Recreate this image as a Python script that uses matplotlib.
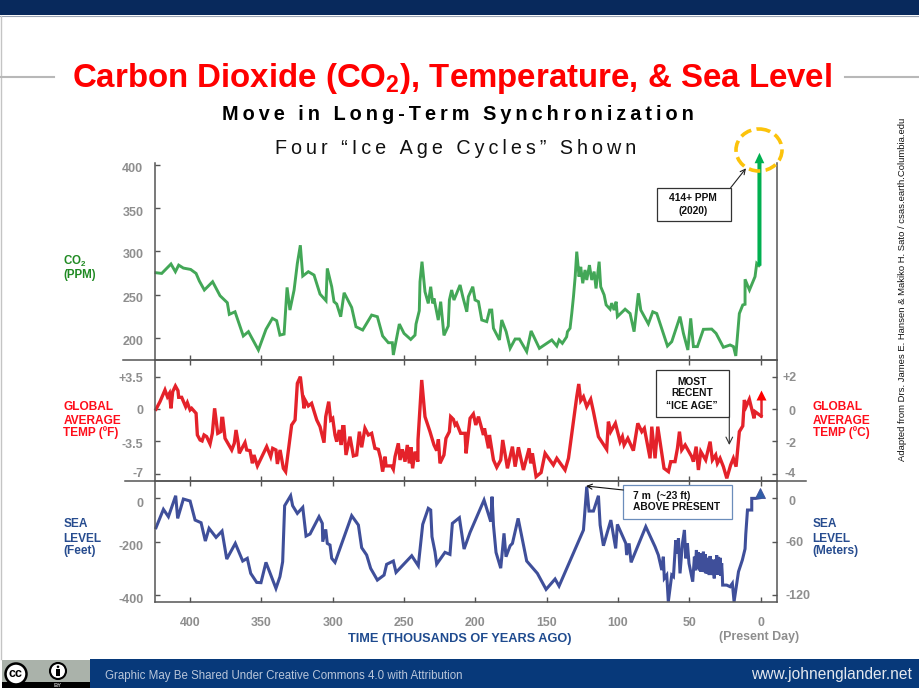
import numpy as np
import matplotlib
matplotlib.use("Agg")
import matplotlib.pyplot as plt
from matplotlib.patches import Rectangle, Ellipse, Circle
from matplotlib.transforms import Affine2D

plt.rcParams["font.family"] = ["Liberation Sans", "DejaVu Sans"]
plt.rcParams["mathtext.fontset"] = "custom"
plt.rcParams["mathtext.rm"] = "Liberation Sans"
plt.rcParams["mathtext.bf"] = "Liberation Sans:bold"
plt.rcParams["axes.unicode_minus"] = False

# CO2 record: thousands of years ago, parts per million
co2_age = [423.9,419.9,413.4,410.3,408,404.7,399.6,395.8,393.5,390,384.2,379,373.9,372.5,368.5,362.7,359.1,352.1,346.8,342.3,339.3,337,334.1,332,330,327.1,324.8,322.7,321,317.1,313.1,308.9,304.7,303.8,300.7,299.1,297.2,294.4,292,286.7,283.7,279,272.7,268.7,265,261,258.2,257.5,253.3,250,245.3,242.3,241.6,239.3,238.8,237.4,235.3,233,231.3,229.9,229,226,224.3,222,219,218.2,216.6,215,210.7,208.8,206,204.9,201.8,200.2,197.8,195.5,192,190,188.5,187.3,183.1,181.5,178.4,175.6,172.1,169.1,164,160.9,155.1,146.4,142.9,141.3,139,136,135.4,133.6,132.4,131.2,130,128.9,127.3,126.1,124.7,123.1,121.9,120,118.4,116.7,115.4,113.2,112.1,109.7,108.3,105.5,104.4,102.7,101.3,100.4,95,91.5,88.7,85.7,84,78.7,75.6,72.8,65.3,62.3,56.5,54.1,51,49,47.1,44.3,40.1,34.3,31.2,26.1,21.4,19,17.4,14.9,12.5,10.9,10.9,7.8,3.9,2.7,1.1]
co2_ppm = [275.2,274.4,285.3,276.4,284,280.6,279,274.4,265.6,255.2,264.8,248.6,240.5,227,230,202,207,185.7,209.6,222.4,219.7,203,204.2,258.2,232,255,286,307,271.4,276.4,272.5,250.5,242.8,280.2,259,241.7,239,224.3,252,235,212.7,208.9,226.2,224.3,202,194.2,194.2,180,215.8,205,198,203,215.8,231.2,264.8,288,253.2,239.7,259,239.7,245.5,220.4,241.7,202.7,213.5,243.6,255.2,243.6,261,247.5,230,247.5,259,243.7,241.7,220.5,218.6,232,232,210.9,197.4,220.5,207,187.7,198.5,198.5,183.9,207.8,187.7,197.4,190.4,197.4,193.5,201,207,210.9,228,247.5,270.7,299.6,270.7,282,263,278.4,266.8,284,266.8,276.5,257,288,259,249.5,238,233,240,232,241.7,224.4,233,228,207,251.4,232,216,230,228,190.4,195.4,224.4,205,185.8,222.4,189.7,189.7,209.7,210,205,188.9,191.6,189.7,178.9,228,237.9,238.7,267.6,255.2,270.7,286,283.4]
co2_modern_ppm = 414

# Temperature record: thousands of years ago, degrees Fahrenheit from present
temp_age = [423.9,421.1,417.6,415.9,414.5,413.4,412.2,410.3,408.5,408,405.9,403.1,401.9,400,398.9,395.8,394.9,393,391.6,390.2,388.4,386,384.4,382.8,380.6,378.5,377.8,377.1,375.5,370.8,369,367.8,366.2,365.5,361.5,360.3,358,356.3,355.2,352.8,346.3,343.5,342.1,339.8,338.8,336.9,334.6,333,328.8,326.4,324.8,322.7,320.1,319.4,317.1,314.8,311.2,308.9,306.1,304.9,302.8,301.4,300,298.4,297.2,295.4,294,293,292.1,290.7,287.9,285.5,283.2,281.3,279.7,277.4,275,272.7,270.4,268,266.4,265,263.3,262.6,258.7,257.5,256.3,254,252.8,251.2,249.3,247.7,246.3,245.1,244,242.3,240.3,240.2,237.6,235.3,231.8,229,227.1,225.9,224.8,222,220.6,218.2,217.3,215.4,214.2,213.1,210.3,209.5,207.2,206.5,203.7,201.4,199.7,197.8,194.3,193.6,190.8,190.1,187.3,185,182.2,180.8,177.5,174,172.1,169.8,166.3,162.3,161.2,160,157.4,153.9,151.1,145.3,142.9,137.1,134.7,128.9,127.5,126.1,124.2,121.9,119.1,117.2,113.7,111.4,107.9,106.7,105.1,101.8,98.5,96.9,95.7,93.1,89.2,86.1,83.3,81.5,77.5,76.3,74,72.1,67.7,64.6,63,60,58.3,56.9,55.3,52.9,48.3,47.1,45.2,43.6,41.9,38.5,35.4,33.8,31.5,30.3,28.4,26.1,23.7,21,19.1,17.2,14.9,12.5,11.4,10.2,7.9,4.6,3.9,-0.3]
temp_f = [-0.03,0.79,2.05,1.33,1.69,0.07,1.87,2.48,1.98,1.26,1.26,0.25,0.68,-0.1,0.07,-0.47,-2.81,-3.35,-3.45,-2.81,-2.99,-3.78,-2.63,0.07,-2.63,-2.45,-1.01,-1.01,-3.17,-4.43,-3.71,-2.27,-3.71,-4.79,-3.63,-4.43,-4.5,-5.87,-4.97,-6.15,-4.07,-5.15,-4.25,-4.43,-5.94,-4.43,-6.41,-6.77,-1.73,-1.19,2.77,3.49,0.07,0.97,0.33,0.61,-1.19,-1.91,-3.64,-0.83,0.79,-1.19,-1.01,-2.81,-3.53,-2.27,-3.89,-1.91,-1.91,-4.97,-2.99,-5.07,-4.97,-2.45,-4.14,-2.09,-2.81,-2.63,-4.25,-4.36,-5.33,-6.77,-5.15,-6.15,-6.15,-6.51,-5.15,-3.71,-5.51,-4.36,-5.69,-3.89,-5.87,-4.14,-6.41,-4.61,-5.69,-3.35,3.13,-0.83,-2.45,-3.89,-4.5,-3.28,-5.87,-4.97,-3.17,-2.45,-0.83,-1.12,-1.73,-1.55,-2.63,-2.63,-2.63,-4.79,-1.01,-0.54,-1.73,-0.83,-2.81,-2.09,-4.25,-2.81,-5.51,-6.3,-5.51,-3.35,-6.41,-4.07,-6.23,-4.14,-6.59,-4.25,-5.87,-4.79,-7.31,-6.87,-4.79,-6.05,-5.33,-6.59,-5.33,1.33,2.7,0.9,1.33,0.25,1.05,-0.29,-2.99,-3.53,-4.36,-1.37,-2.45,-1.55,-3.53,-2.99,-3.89,-3.17,-4.5,-1.55,-2.45,-2.09,-5.33,-1.91,-5.33,-1.91,-6.41,-6.77,-5.69,-5.69,-4.25,-2.45,-4.43,-3.89,-5.15,-5.69,-4.07,-6.59,-4.61,-5.51,-3.53,-5.51,-4.97,-5.87,-5.33,-6.23,-7.49,-6.05,-5.33,-6.23,-2.45,-1.84,0.97,0.25,1.05,-1.01,-0.29,-0.76]
temp_arrow_f = 1.5

# Sea level record: thousands of years ago, metres from present
sea_age = [423.9,418.7,415.2,410.1,408.7,404.7,400,396.5,392.3,389.3,386.7,381.8,377.6,374.3,368.3,363.1,359.9,357.5,353.3,350.3,346.8,339.8,337,335.1,333.7,329.5,328.1,324.8,321,318.7,315.9,309.6,307.3,307,304.9,303.8,301.9,300.7,298.4,286.7,282,279.7,276.2,273.4,268.7,264,262.2,257.5,255.6,244.6,240,236.9,233,231.3,230.4,228.3,227.1,221.3,217.8,216.1,211.2,207.9,203.7,193.9,189.2,188.3,187.3,185.5,182.2,179.9,178.5,175.6,174,170,164,156.5,150.4,144.1,141.3,124.2,121.9,120.3,117.2,113.7,112.5,110.2,105,101.6,100.4,94.5,93.9,92.2,90.8,80.5,74,71.7,69.3,68.2,67.5,65.8,64.7,62.3,61.1,59.5,58.1,57.6,56.5,54.8,53.4,52.5,51.3,50.2,47.6,46.4,45.8,45,44.3,43.6,43,42.4,41.9,41.3,40.7,40.1,39.5,38.9,38.3,37.8,37.2,36.6,36,35.4,34.9,34.3,33.7,33.1,32.5,31.9,31.4,30.8,30.2,29.6,29,28.4,27.9,27.3,26.8,26.6,23.8,21.4,19.8,18.6,15.5,12.8,10.9,10.4,9.2,6.2,6.2,3.4,0.5]
sea_m = [-40.9,-15.9,-25.9,2.7,-28.2,-1.8,-4.5,-30.5,-34.1,-59.1,-41.8,-54.1,-45.5,-79.4,-61.9,-81.6,-78.6,-95.4,-105.5,-105.8,-83.1,-112.2,-99.1,-82.4,-10.9,2.7,-10.9,-21.4,-13.2,-52.3,-49.5,-25.9,-35,-60,-43.2,-61.9,-63.7,-78.6,-83.1,-24.5,-37.3,-66.7,-74.9,-89.8,-102.9,-97.3,-85.3,-81.6,-94.3,-75.7,-86.9,-36.4,-14.5,-16.8,-53.2,-71.2,-85.1,-71.9,-74.2,-35,-27.3,-68.2,-47.3,-3.2,-32.7,1.4,-37.3,-72,-89.6,-48.6,-76.8,-64.5,-61.9,-28.2,-81.6,-95.4,-113.3,-101.7,-109.6,-44.1,15,-18.2,-18.2,2.7,-37.3,-64.5,-30.5,-67.5,-36.4,-61.9,-74.9,-61.9,-83.1,-39.5,-65.6,-74.9,-91.7,-76.8,-101,-97.3,-127,-97.3,-99,-57.9,-73,-55.4,-95.4,-61.9,-44,-78.6,-61.9,-84.2,-104.7,-76.8,-92,-69.3,-90,-72,-92,-73,-93.5,-75,-90,-71.2,-94,-74,-95.4,-78,-96,-80,-97.3,-76,-96,-80,-97.3,-84,-101,-80,-96,-75,-97,-77,-96,-78,-98,-84,-99,-108.5,-108.5,-110.3,-106.6,-127,-93.5,-80.5,-68,-50,-16.8,-16.8,-0.9,-0.9,0]
sea_arrow_m = 6

age_ticks = [400, 350, 300, 250, 200, 150, 100, 50, 0]
age_labels = ["400", "350", "300", "250", "200", "150", "100", "50", "0"]
co2_ticks = [400, 350, 300, 250, 200]
temp_f_ticks = [3.5, 0, -3.5, -7]
temp_f_labels = ["+3.5", "0", "-3.5", "-7"]
temp_c_ticks = [2, 0, -2, -4]
temp_c_labels = ["+2", "0", "-2", "-4"]
sea_ft_ticks = [0, -200, -400]
sea_m_ticks = [0, -60, -120]

GREEN, RED, BLUE = "#43a757", "#e4222a", "#3f4f9a"
TICK_GREY, AXIS_GREY = "#8e8e8e", "#555555"
W, H = 920, 688

fig = plt.figure(figsize=(W / 100, H / 100), dpi=100, facecolor="white")


def panel(top, bottom):
    return fig.add_axes([155 / W, 1 - bottom / H, 622 / W, (bottom - top) / H])


ax_co2, ax_temp, ax_sea = panel(163, 360), panel(360, 481), panel(481, 602)
for ax in (ax_co2, ax_temp, ax_sea):
    ax.set_xlim(424.6, -11.5)
    ax.set_xticks(age_ticks)
    for spine in ax.spines.values():
        spine.set_color(AXIS_GREY)
        spine.set_linewidth(1.1)
    ax.tick_params(axis="both", direction="in", length=3.4, width=1.0, color=AXIS_GREY,
                   labelcolor=TICK_GREY, labelsize=9)
    ax.patch.set_alpha(0)
ax_co2.spines["top"].set_visible(False)
ax_co2.set_ylim(174.2, 402.2)
ax_temp.set_ylim(-7.78, 5.29)

# The printed sea level axis is not evenly spaced, so its scale follows the tick marks
sea_nodes_m = [60, 0, -60, -120, -180]
sea_nodes_px = [44, 0, -44, -97.7, -151.4]


def sea_forward(v):
    return np.interp(v, sea_nodes_m[::-1], sea_nodes_px[::-1])


def sea_inverse(v):
    return np.interp(v, sea_nodes_px[::-1], sea_nodes_m[::-1])


ax_sea.set_yscale("function", functions=(sea_forward, sea_inverse))
ax_sea.set_ylim(-127.4, 22.8)

for ax, x, y, color, lw in ((ax_co2, co2_age, co2_ppm, GREEN, 2.1),
                            (ax_temp, temp_age, temp_f, RED, 2.4),
                            (ax_sea, sea_age, sea_m, BLUE, 2.2)):
    ax.plot(x, y, color=color, lw=lw, solid_joinstyle="miter", clip_on=False)

# Rise since the last ice age, drawn as arrows above each record
ax_co2.annotate("", xy=(0.8, co2_modern_ppm), xytext=(0.8, co2_ppm[-1]), annotation_clip=False,
                arrowprops=dict(facecolor="#00b050", edgecolor="none", width=2.9, headwidth=7,
                                headlength=7.5, shrink=0))
ax_temp.plot([temp_age[-1]] * 2, [temp_f[-1], temp_arrow_f], color=RED, lw=1.8)
ax_temp.plot([temp_age[-1]], [temp_arrow_f], marker="^", ms=7.5, color="#ff0000", mec="none")
ax_sea.plot([sea_age[-1]], [sea_arrow_m], marker="^", ms=7.5, color="#2f5ea8", mec=BLUE, mew=0.6,
            clip_on=False)

ax_co2.set_yticks(co2_ticks)
ax_temp.set_yticks(temp_f_ticks, temp_f_labels)
ax_co2.tick_params(axis="x", labelbottom=False, top=False)
ax_temp.tick_params(axis="x", labelbottom=False, top=True)
ax_sea.tick_params(axis="x", top=True, pad=10.5, labelsize=8.9)
ax_sea.set_xticklabels(age_labels, fontweight="bold")

# Right-hand axes: Celsius for temperature; sea level in metres sits right, feet left
ax_c = ax_temp.twinx()
ax_c.set_ylim(-7.78 * 2 / 3.5, 5.29 * 2 / 3.5)
ax_c.set_yticks(temp_c_ticks, temp_c_labels)

ax_ft = ax_sea.twinx()
ax_ft.yaxis.tick_left()
ax_sea.yaxis.tick_right()
ax_sea.set_yticks(sea_m_ticks)


def feet_forward(v):
    return sea_forward(np.asarray(v) * 0.3)


def feet_inverse(v):
    return sea_inverse(v) / 0.3


ax_ft.set_yscale("function", functions=(feet_forward, feet_inverse))
ax_ft.set_ylim(-127.4 / 0.3, 22.8 / 0.3)
ax_ft.set_yticks(sea_ft_ticks)
ax_ft.yaxis.tick_left()

for ax in (ax_c, ax_ft):
    ax.patch.set_alpha(0)
    for spine in ax.spines.values():
        spine.set_visible(False)
    ax.tick_params(axis="y", direction="in", length=3.4, width=1.0, color=AXIS_GREY,
                   labelcolor=TICK_GREY, labelsize=9)


def nudge(axis, dys, dxs=None, ha=None):
    """Shift an axis' tick labels by a few pixels; they sit off their marks on this chart."""
    for i, label in enumerate(axis.get_ticklabels()):
        dx = dxs[i] if dxs else 0
        label.set_transform(label.get_transform() + Affine2D().translate(dx, -dys[i]))
        label.set_fontweight("bold")
        if ha:
            label.set_ha(ha)


for ax in (ax_co2, ax_temp, ax_ft):
    ax.tick_params(axis="y", pad=8.4)
for ax in (ax_c, ax_sea):
    ax.tick_params(axis="y", pad=0)
nudge(ax_co2.yaxis, [3, 3, 2.5, 3, 2.5])
nudge(ax_temp.yaxis, [0.7, 1, 1.7, -1.3])
nudge(ax_ft.yaxis, [5, 4, 3])
nudge(ax_c.yaxis, [0, 2, 1, -1], [5.5, 12, 9, 7.5], "left")
nudge(ax_sea.yaxis, [3, 0, -0.5], [12, 9, 9], "left")

ax_sea.set_xlabel("TIME (THOUSANDS OF YEARS AGO)", color="#1f4b8f", fontweight="bold", fontsize=9.15)
ax_sea.xaxis.set_label_coords(0.4905, -0.306)
ax_sea.xaxis.label.set_va("center")

# Slide furniture and annotations, laid out in pixels on a full-figure layer
layer = fig.add_axes([0, 0, 1, 1], zorder=10)
layer.set_xlim(0, W)
layer.set_ylim(H, 0)
layer.axis("off")

layer.add_patch(Rectangle((0, 0), W, 15, fc="#08295c", ec="none"))
layer.plot([0, W], [15.5, 15.5], color="#9aa3b2", lw=0.8)
layer.plot([0.5, 0.5], [16, 659], color="#c4c4c4", lw=1)
layer.plot([0, 54], [77, 77], color="#b8b8b8", lw=1.5)
layer.plot([845, W], [77, 77], color="#b8b8b8", lw=1.5)
layer.plot([123, 155], [360, 360], color=AXIS_GREY, lw=1.1)
layer.plot([125, 155], [481, 481], color=AXIS_GREY, lw=1.1)
layer.plot([777, 806], [481, 481], color=AXIS_GREY, lw=1.1)

layer.text(452, 87.3, r"Carbon Dioxide (CO$\mathbf{_2}$), Temperature, & Sea Level", color="#ff0000",
           fontsize=23.8, fontweight="bold", ha="center", va="baseline")


def tracked(text):
    """Open up a heading's letter spacing with thin spaces between its characters."""
    return "\u2009".join(text)


layer.text(457.5, 119.5, tracked("Move in Long-Term Synchronization"), color="black", fontsize=14.3,
           fontweight="bold", ha="center", va="baseline")
layer.text(456, 154, tracked("Four \u201cIce Age Cycles\u201d Shown"), color="#111111", fontsize=14.2,
           ha="center", va="baseline")
layer.text(902.7, 289.5, "Adapted from Drs. James E. Hansen & Makiko H. Sato / csas.earth.Columbia.edu",
           fontsize=6.8, rotation=90, ha="center", va="center", color="#111111")

layer.add_patch(Ellipse((759, 150), 46, 42, fc="none", ec="#fcc30b", lw=2.6, ls=(0, (3.2, 1.5))))


def side_label(x, ys, lines, color, size=8.6):
    for y, line in zip(ys, lines):
        layer.text(x, y, line, color=color, fontsize=size, fontweight="bold", ha="left", va="center")


side_label(63.5, [261, 274.6], [r"CO$\mathbf{_2}$", "(PPM)"], "#1f8a22", 8.3)
side_label(63.5, [406.5, 420.5, 433], ["GLOBAL", "AVERAGE", "TEMP (\u00baF)"], "#ff0d1a")
side_label(63.5, [524, 538.5, 551], ["SEA", "LEVEL", "(Feet)"], "#274c8f")
side_label(812.7, [406.7, 420.7, 433], ["GLOBAL", "AVERAGE", "TEMP (\u00baC)"], "#ff0d1a")
side_label(812.7, [524, 538.5, 551], ["SEA", "LEVEL", "(Meters)"], "#274c8f")

layer.text(759.5, 637, "(Present Day)", color=TICK_GREY, fontsize=8.9, fontweight="bold",
           ha="center", va="center")


def callout(x0, y0, x1, y1, edge):
    layer.add_patch(Rectangle((x0, y0), x1 - x0, y1 - y0, fc="white", ec=edge, lw=0.9))


def pointer(start, end, color="#222222", scale=9):
    layer.annotate("", xy=end, xytext=start,
                   arrowprops=dict(arrowstyle="->", color=color, lw=0.8, mutation_scale=scale,
                                   shrinkA=0, shrinkB=0))


callout(656.7, 187.7, 730.7, 221, "#333333")
pointer((730.7, 187.7), (746, 168.3))
layer.text(693, 198.3, "414+ PPM", fontsize=7.4, fontweight="bold", ha="center", va="center", color="#111111")
layer.text(693, 211, "(2020)", fontsize=7.4, fontweight="bold", ha="center", va="center", color="#111111")

callout(655.7, 370, 729.3, 416.7, "#333333")
for y, line in zip([382, 393.5, 406], ["MOST", "RECENT", "\u201cICE AGE\u201d"]):
    layer.text(692, y, line, fontsize=7.4, fontweight="bold", ha="center", va="center", color="#111111")
pointer((729.3, 416.7), (729.3, 445), "#333333", 12)

callout(623.3, 485, 731.7, 519, "#6b8dbb")
layer.text(632.7, 495.6, "7 m  (~23 ft)", fontsize=7.4, fontweight="bold", ha="left", va="center", color="#111111")
layer.text(632.7, 507, "ABOVE PRESENT", fontsize=7.4, fontweight="bold", ha="left", va="center", color="#111111")
pointer((623.3, 490), (586, 486), "#111111", 9)

# Footer bar and licence badge
layer.add_patch(Rectangle((90, 659), W - 90, 29, fc="#07397a", ec="none"))
layer.add_patch(Rectangle((2, 660), 88, 28, fc="#aab2aa", ec="none"))
layer.add_patch(Rectangle((2, 682), 88, 6, fc="black", ec="none"))
layer.add_patch(Circle((16, 674), 10.5, fc="white", ec="black", lw=1.8))
layer.text(16, 674, "cc", fontsize=9, fontweight="bold", ha="center", va="center", color="black")
layer.add_patch(Circle((58, 671), 8, fc="white", ec="black", lw=1.5))
layer.add_patch(Circle((58, 666.8), 1.3, fc="black", ec="none"))
layer.add_patch(Rectangle((56.3, 668.8), 3.4, 7.5, fc="black", ec="none"))
layer.text(58, 685.3, "BY", fontsize=4.2, fontweight="bold", ha="center", va="center", color="#b8b8b8")
layer.text(105, 676, "Graphic May Be Shared Under Creative Commons 4.0 with Attribution", fontsize=8.3,
           color="#b9c6da", ha="left", va="center")
layer.text(912, 674, "www.johnenglander.net", fontsize=11.2, color="#e4e8ee", ha="right", va="center")

fig.savefig("out.png", dpi=100)
